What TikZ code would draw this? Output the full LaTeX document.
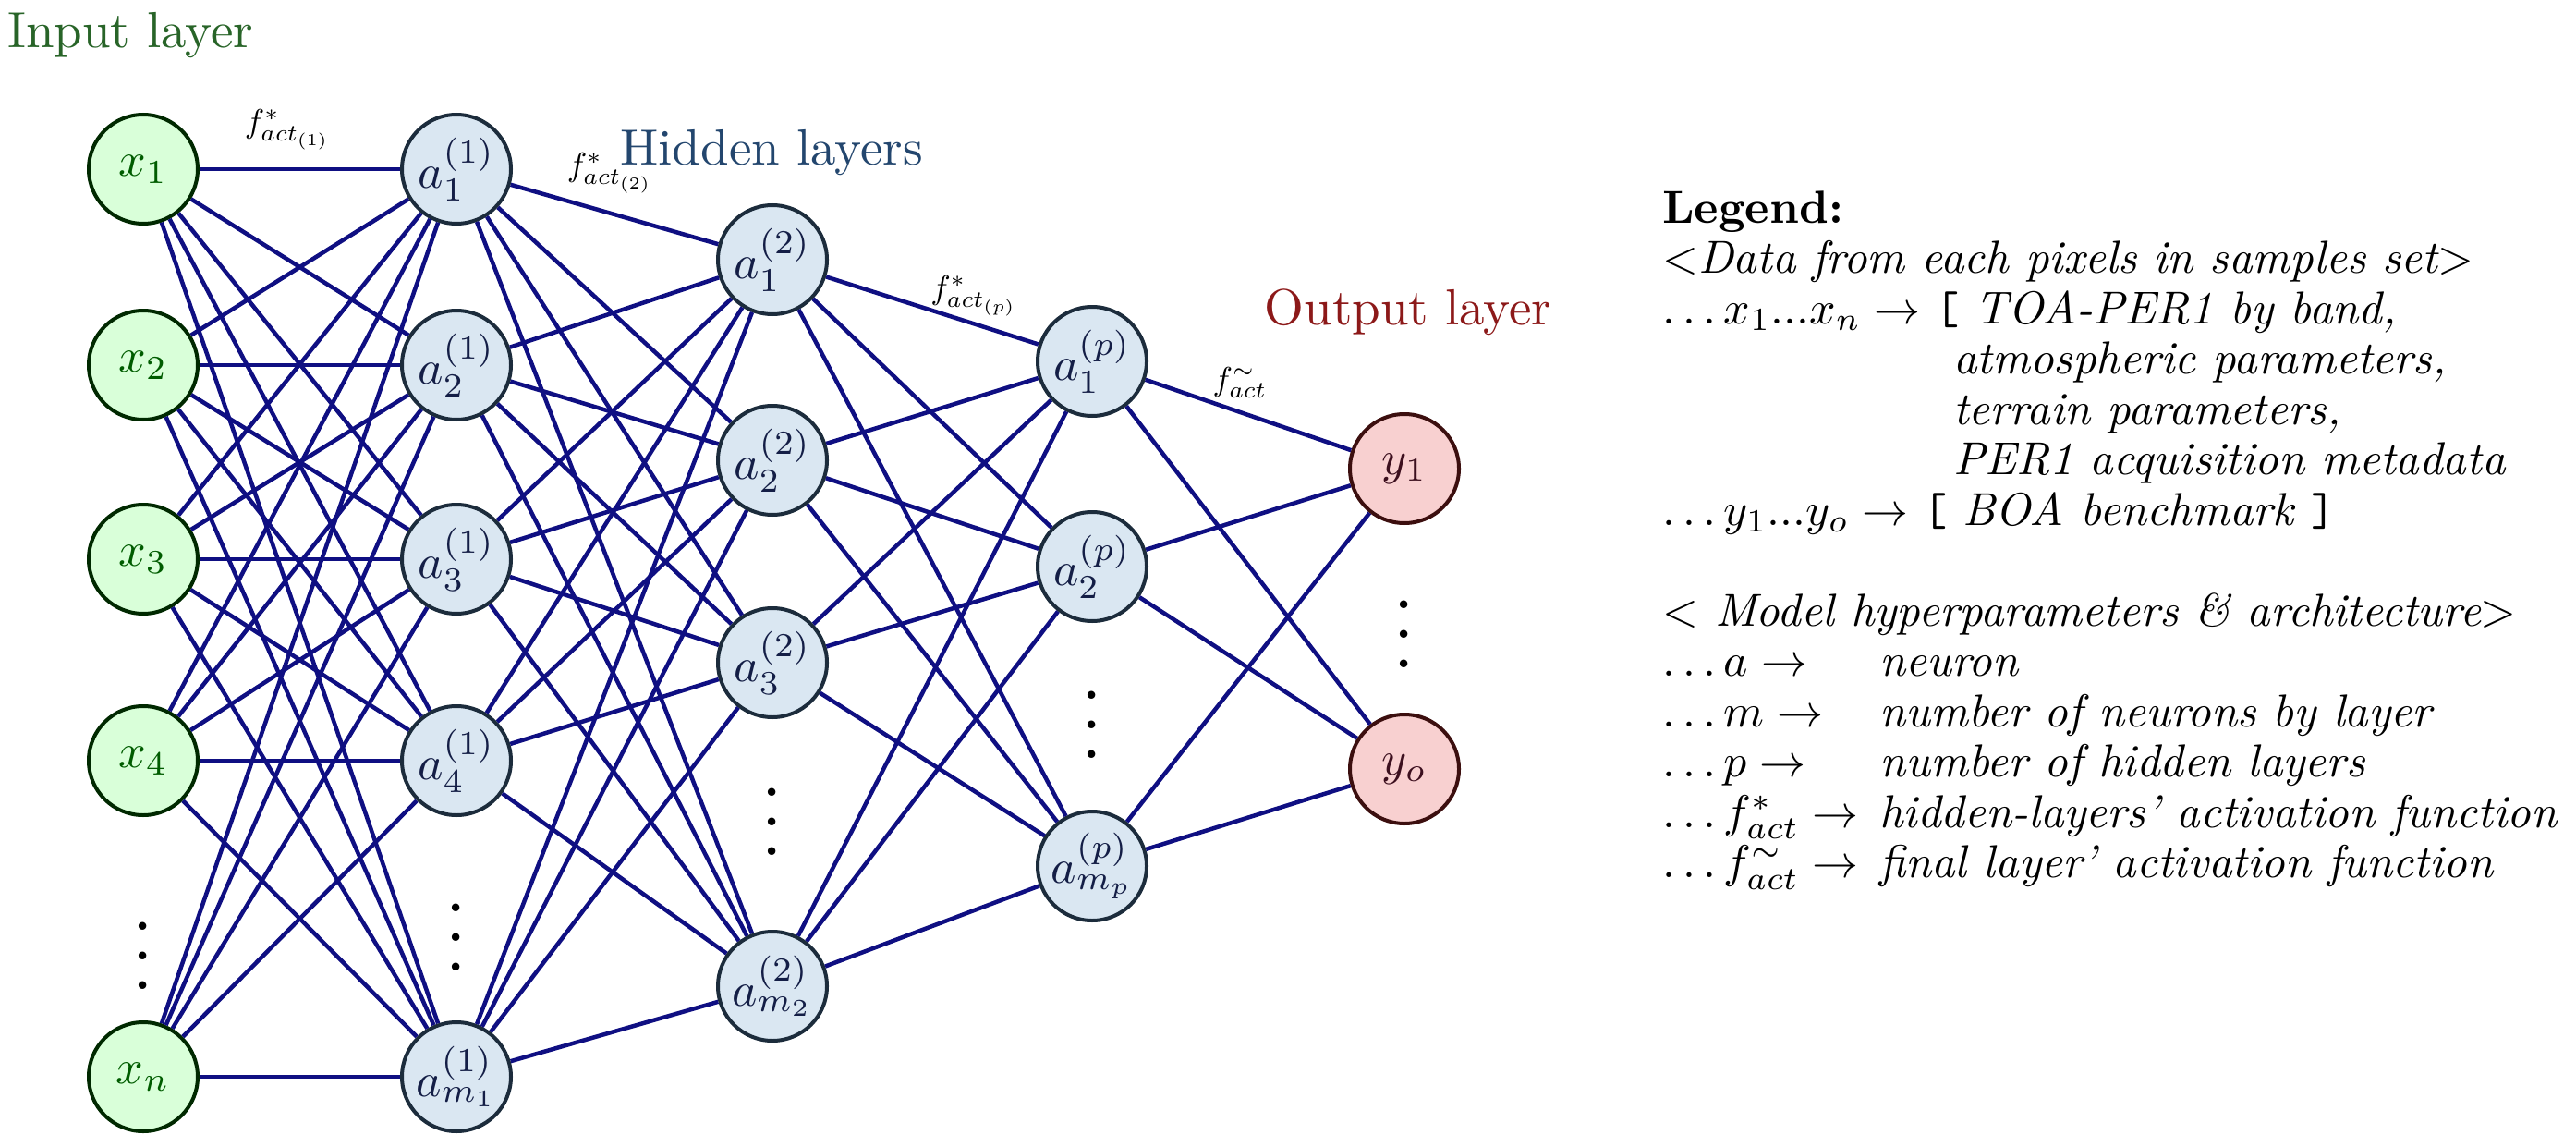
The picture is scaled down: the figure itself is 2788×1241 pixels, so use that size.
\documentclass[tikz,border=0pt]{standalone}
\usepackage{amsmath}
\usepackage{graphicx}
\newcommand{\Sc}[2]{\scalebox{#1}{#2}}
\newcommand{\Nd}[1]{\scalebox{5.2}{#1}}
\newcommand{\Dt}{\scalebox{8}{$\vdots$}}
\begin{document}
\begin{tikzpicture}[x=1pt,y=-1pt,
  neu/.style={circle,minimum size=118pt,inner sep=0pt,line width=4pt},
  inp/.style={neu,fill=green!15!white,draw=black!60!green!40!black,text=black!40!green!60!black},
  hid/.style={neu,fill={rgb,255:red,218;green,231;blue,242},draw={rgb,255:red,28;green,44;blue,60},text={rgb,255:red,20;green,30;blue,70}},
  outn/.style={neu,fill={rgb,255:red,248;green,208;blue,208},draw={rgb,255:red,60;green,15;blue,15},text={rgb,255:red,60;green,15;blue,30}},
  edge/.style={line width=4.5pt,draw={rgb,255:red,15;green,15;blue,130}}]
\useasboundingbox (0,0) rectangle (2788,1241);
\node[text={rgb,255:red,40;green,100;blue,40},anchor=west,inner sep=0pt] (tin) at (8,38) {\Sc{5.5}{Input layer}};
\node[text={rgb,255:red,35;green,70;blue,110}] (thid) at (835,165) {\Sc{5.5}{Hidden layers}};
\node[text={rgb,255:red,140;green,25;blue,25}] (tout) at (1524,338) {\Sc{5.5}{Output layer}};
% input
\node[inp] (x1) at (155,183) {\Nd{$x_1$}};
\node[inp] (x2) at (155,395) {\Nd{$x_2$}};
\node[inp] (x3) at (155,605) {\Nd{$x_3$}};
\node[inp] (x4) at (155,823) {\Nd{$x_4$}};
\node (xd) at (155,1010) {\Dt};
\node[inp] (xn) at (155,1165) {\Nd{$x_n$}};
% hidden 1
\node[hid] (a11) at (494,183) {\Nd{$a_1^{(1)}$}};
\node[hid] (a12) at (494,395) {\Nd{$a_2^{(1)}$}};
\node[hid] (a13) at (494,605) {\Nd{$a_3^{(1)}$}};
\node[hid] (a14) at (494,823) {\Nd{$a_4^{(1)}$}};
\node (a1d) at (494,990) {\Dt};
\node[hid] (a1m) at (494,1165) {\Nd{$a_{m_1}^{(1)}$}};
% hidden 2
\node[hid] (a21) at (836,281) {\Nd{$a_1^{(2)}$}};
\node[hid] (a22) at (836,498) {\Nd{$a_2^{(2)}$}};
\node[hid] (a23) at (836,717) {\Nd{$a_3^{(2)}$}};
\node (a2d) at (836,865) {\Dt};
\node[hid] (a2m) at (836,1067) {\Nd{$a_{m_2}^{(2)}$}};
% hidden p
\node[hid] (ap1) at (1182,391) {\Nd{$a_1^{(p)}$}};
\node[hid] (ap2) at (1182,613) {\Nd{$a_2^{(p)}$}};
\node (apd) at (1182,760) {\Dt};
\node[hid] (apm) at (1182,937) {\Nd{$a_{m_p}^{(p)}$}};
% output
\node[outn] (y1) at (1520,507) {\Nd{$y_1$}};
\node (yd) at (1520,662) {\Dt};
\node[outn] (yo) at (1520,832) {\Nd{$y_o$}};
% edges
\foreach \i in {x1,x2,x3,x4,xn}{\foreach \j in {a11,a12,a13,a14,a1m}{\draw[edge] (\i) -- (\j);}}
\foreach \i in {a11,a12,a13,a14,a1m}{\foreach \j in {a21,a22,a23,a2m}{\draw[edge] (\i) -- (\j);}}
\foreach \i in {a21,a22,a23,a2m}{\foreach \j in {ap1,ap2,apm}{\draw[edge] (\i) -- (\j);}}
\foreach \i in {ap1,ap2,apm}{\foreach \j in {y1,yo}{\draw[edge] (\i) -- (\j);}}
% labels
\node (l1) at (311,140) {\Sc{3.6}{$f^*_{act_{(1)}}$}};
\node (l2) at (660,187) {\Sc{3.6}{$f^*_{act_{(2)}}$}};
\node (l3) at (1054,320) {\Sc{3.6}{$f^*_{act_{(p)}}$}};
\node (l4) at (1342,414) {\Sc{3.6}{$f^{\sim}_{act}$}};
% legend
\node[anchor=north west,inner sep=0pt] (leg) at (1799,203) {\Sc{5}{\fontsize{10}{10.9}\selectfont
\begin{tabular}{@{}l@{}}
\textbf{Legend:}\\
\textit{$<$Data from each pixels in samples set$>$}\\
$\ldots x_1 ... x_n \rightarrow$ \texttt{[} \textit{TOA-PER1 by band,}\\
\hspace*{63pt}\textit{atmospheric parameters,}\\
\hspace*{63pt}\textit{terrain parameters,}\\
\hspace*{63pt}\textit{PER1 acquisition metadata}\\
$\ldots y_1 ... y_o \rightarrow$ \texttt{[} \textit{BOA benchmark} \texttt{]}\\[10.9pt]
\textit{$<$ Model hyperparameters \& architecture$>$}\\
\makebox[47pt][l]{$\ldots a \rightarrow$}\textit{neuron}\\
\makebox[47pt][l]{$\ldots m \rightarrow$}\textit{number of neurons by layer}\\
\makebox[47pt][l]{$\ldots p \rightarrow$}\textit{number of hidden layers}\\
\makebox[47pt][l]{$\ldots f^*_{act} \rightarrow$}\textit{hidden-layers' activation function}\\
\makebox[47pt][l]{$\ldots f^{\sim}_{act} \rightarrow$}\textit{final layer' activation function}
\end{tabular}}};
\end{tikzpicture}
\end{document}
